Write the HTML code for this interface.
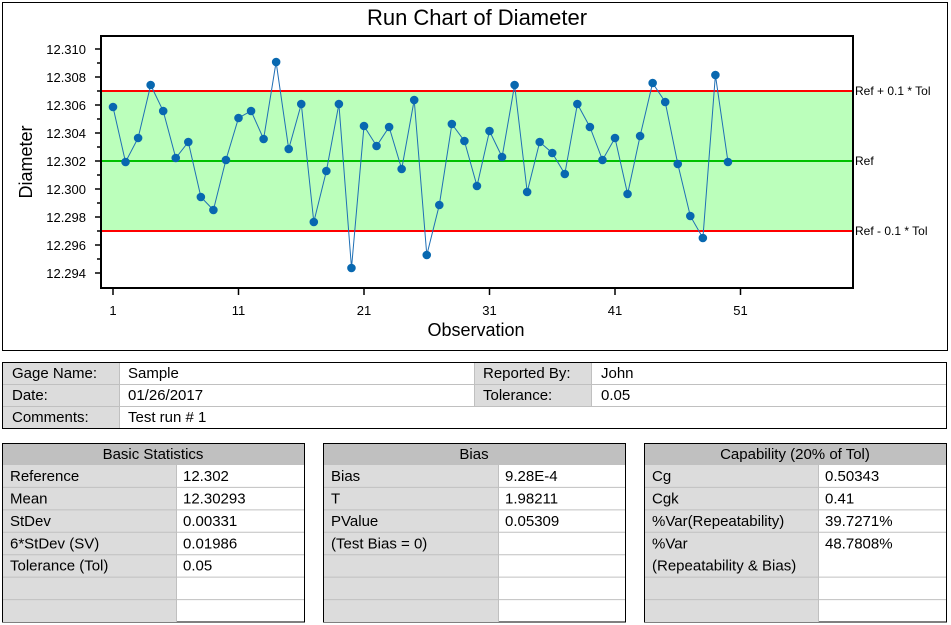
<!DOCTYPE html>
<html><head><meta charset="utf-8"><style>
body{margin:0;background:#fff;}
svg{display:block;font-family:"Liberation Sans",Arial,sans-serif;}
</style></head><body>
<svg width="951" height="625" viewBox="0 0 951 625" xmlns="http://www.w3.org/2000/svg">
<rect x="0" y="0" width="951" height="625" fill="#fff"/>
<rect x="2.5" y="2.5" width="945" height="348" fill="#fff" stroke="#000" stroke-width="1"/>
<text x="477" y="25" font-size="22" text-anchor="middle">Run Chart of Diameter</text>
<rect x="101" y="36" width="752" height="252" fill="#fff"/>
<rect x="101" y="91" width="752" height="140" fill="#bbffbb"/>
<line x1="101" y1="91" x2="853" y2="91" stroke="#f00" stroke-width="2"/>
<line x1="101" y1="231" x2="853" y2="231" stroke="#f00" stroke-width="2"/>
<line x1="101" y1="161" x2="853" y2="161" stroke="#00c000" stroke-width="2"/>
<rect x="101" y="36" width="752" height="252" fill="none" stroke="#000" stroke-width="2"/>
<g stroke="#000" stroke-width="1.5">
<line x1="95" y1="49" x2="101" y2="49"/><line x1="95" y1="77" x2="101" y2="77"/><line x1="95" y1="105" x2="101" y2="105"/><line x1="95" y1="133" x2="101" y2="133"/><line x1="95" y1="161" x2="101" y2="161"/><line x1="95" y1="189" x2="101" y2="189"/><line x1="95" y1="217" x2="101" y2="217"/><line x1="95" y1="245" x2="101" y2="245"/><line x1="95" y1="273" x2="101" y2="273"/>
<line x1="97" y1="63" x2="101" y2="63"/><line x1="97" y1="91" x2="101" y2="91"/><line x1="97" y1="119" x2="101" y2="119"/><line x1="97" y1="147" x2="101" y2="147"/><line x1="97" y1="175" x2="101" y2="175"/><line x1="97" y1="203" x2="101" y2="203"/><line x1="97" y1="231" x2="101" y2="231"/><line x1="97" y1="259" x2="101" y2="259"/>
<line x1="113" y1="288" x2="113" y2="295"/><line x1="238.5" y1="288" x2="238.5" y2="295"/><line x1="364" y1="288" x2="364" y2="295"/><line x1="489.5" y1="288" x2="489.5" y2="295"/><line x1="615" y1="288" x2="615" y2="295"/><line x1="740.5" y1="288" x2="740.5" y2="295"/>
</g>
<g font-size="13" text-anchor="end">
<text x="86" y="54">12.310</text><text x="86" y="82">12.308</text><text x="86" y="110">12.306</text><text x="86" y="138">12.304</text><text x="86" y="166">12.302</text><text x="86" y="194">12.300</text><text x="86" y="222">12.298</text><text x="86" y="250">12.296</text><text x="86" y="278">12.294</text>
</g>
<g font-size="13" text-anchor="middle">
<text x="113" y="315">1</text><text x="238.5" y="315">11</text><text x="364" y="315">21</text><text x="489.5" y="315">31</text><text x="615" y="315">41</text><text x="740.5" y="315">51</text>
</g>
<text x="476" y="336" font-size="18" text-anchor="middle">Observation</text>
<text transform="translate(32,162) rotate(-90)" font-size="18" text-anchor="middle">Diameter</text>
<g font-size="12">
<text x="855" y="95">Ref + 0.1 * Tol</text>
<text x="855" y="165">Ref</text>
<text x="855" y="235">Ref - 0.1 * Tol</text>
</g>
<g id="series"></g>
<g font-size="15">
<rect x="2.5" y="362.5" width="944" height="66" fill="#fff" stroke="#000"/>
<rect x="3" y="363" width="116" height="65" fill="#dcdcdc"/>
<rect x="474" y="363" width="117" height="43" fill="#dcdcdc"/>
<g stroke="#c0c0c0"><line x1="3" y1="384.5" x2="946" y2="384.5"/><line x1="3" y1="406.5" x2="946" y2="406.5"/><line x1="119.5" y1="363" x2="119.5" y2="428"/><line x1="474.5" y1="363" x2="474.5" y2="406"/><line x1="591.5" y1="363" x2="591.5" y2="406"/></g>
<text x="12" y="378">Gage Name:</text><text x="12" y="400">Date:</text><text x="12" y="422">Comments:</text>
<text x="128" y="378">Sample</text><text x="128" y="400">01/26/2017</text><text x="128" y="422">Test run # 1</text>
<text x="483" y="378">Reported By:</text><text x="483" y="400">Tolerance:</text>
<text x="601" y="378">John</text><text x="601" y="400">0.05</text>
</g>
<g id="stats" font-size="15"></g>
</svg>
<script>
var ys=[107,162,138,85,111,158,142,197,210,160,118,111,139,62,149,104,222,171,104,268,126,146,127,169,100,255,205,124,141,186,131,157,85,192,142,153,174,104,127,160,138,194,136,83,102,164,216,238,75,162];
var ns="http://www.w3.org/2000/svg",g=document.getElementById("series");
var pts=ys.map(function(y,i){return (113+i*12.55).toFixed(1)+","+y;}).join(" ");
var pl=document.createElementNS(ns,"polyline");pl.setAttribute("points",pts);pl.setAttribute("fill","none");pl.setAttribute("stroke","#1f6fb5");pl.setAttribute("stroke-width","1");g.appendChild(pl);
ys.forEach(function(y,i){var c=document.createElementNS(ns,"circle");c.setAttribute("cx",113+i*12.55);c.setAttribute("cy",y);c.setAttribute("r","4.3");c.setAttribute("fill","#0868b0");g.appendChild(c);});
var st=document.getElementById("stats");
var tabs=[
{x:2,vx:176,title:"Basic Statistics",rows:[["Reference","12.302"],["Mean","12.30293"],["StDev","0.00331"],["6*StDev (SV)","0.01986"],["Tolerance (Tol)","0.05"],["",""],["",""]]},
{x:323,vx:498,title:"Bias",rows:[["Bias","9.28E-4"],["T","1.98211"],["PValue","0.05309"],["(Test Bias = 0)",""],["",""],["",""],["",""]]},
{x:644,vx:818,title:"Capability (20% of Tol)",rows:[["Cg","0.50343"],["Cgk","0.41"],["%Var(Repeatability)","39.7271%"],["%Var|(Repeatability & Bias)","48.7808%",2],["",""],["",""]]}];
var h="";
tabs.forEach(function(t){
var w=302;
h+='<rect x="'+(t.x+0.5)+'" y="443.5" width="'+w+'" height="178.5" fill="#fff" stroke="#000"/>';
h+='<rect x="'+(t.x+1)+'" y="444" width="'+(w-1)+'" height="21" fill="#c0c0c0"/>';
h+='<rect x="'+(t.x+1)+'" y="465" width="'+(t.vx-t.x-1)+'" height="157" fill="#dcdcdc"/>';
h+='<text x="'+(t.x+w/2)+'" y="459" text-anchor="middle">'+t.title+'</text>';
h+='<line x1="'+(t.vx+0.5)+'" y1="465" x2="'+(t.vx+0.5)+'" y2="622" stroke="#c0c0c0"/>';
var y=465,rh=22.43;
t.rows.forEach(function(r){
var span=r[2]||1;
var parts=r[0].split("|");
parts.forEach(function(p,k){h+='<text x="'+(t.x+8)+'" y="'+(y+16+k*22)+'">'+p.replace(/&/g,"&amp;")+'</text>';});
h+='<text x="'+(t.vx+7)+'" y="'+(y+16)+'">'+r[1]+'</text>';
y+=rh*span;
if(y<621)h+='<line x1="'+(t.x+1)+'" y1="'+y.toFixed(1)+'" x2="'+(t.x+w)+'" y2="'+y.toFixed(1)+'" stroke="#c0c0c0"/>';
});
});
st.innerHTML=h;
</script>
</body></html>
